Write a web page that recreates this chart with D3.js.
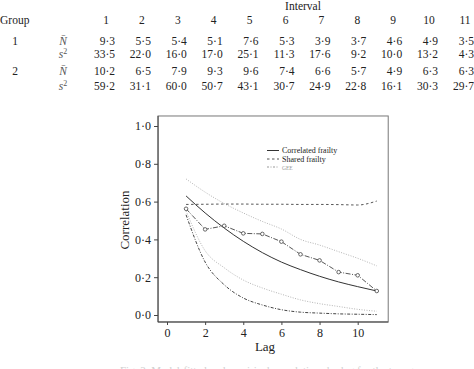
<!DOCTYPE html>
<meta charset="utf-8">
<script src="https://d3js.org/d3.v7.min.js"></script>
<style>
  body { margin: 0; background: #fff; }
  text { font-family: "Liberation Serif", "DejaVu Serif", serif; fill: #222; }
</style>
<div id="chart"></div>
<script>
// table data
var intervals = [1, 2, 3, 4, 5, 6, 7, 8, 9, 10, 11];
var g1N  = ["9·3", "5·5", "5·4", "5·1", "7·6", "5·3", "3·9", "3·7", "4·6", "4·9", "3·5"];
var g1s2 = ["33·5", "22·0", "16·0", "17·0", "25·1", "11·3", "17·6", "9·2", "10·0", "13·2", "4·3"];
var g2N  = ["10·2", "6·5", "7·9", "9·3", "9·6", "7·4", "6·6", "5·7", "4·9", "6·3", "6·3"];
var g2s2 = ["59·2", "31·1", "60·0", "50·7", "43·1", "30·7", "24·9", "22·8", "16·1", "30·3", "29·7"];

// chart data
var lags = [1, 2, 3, 4, 5, 6, 7, 8, 9, 10, 11];
var corrFrailty = [0.63, 0.54, 0.46, 0.39, 0.33, 0.28, 0.24, 0.205, 0.175, 0.15, 0.127];
var corrUpper   = [0.72, 0.65, 0.59, 0.54, 0.495, 0.455, 0.40, 0.37, 0.335, 0.30, 0.26];
var corrLower   = [0.55, 0.34, 0.25, 0.185, 0.143, 0.11, 0.08, 0.06, 0.045, 0.03, 0.02];
var sharedFrailty = [0.585, 0.586, 0.587, 0.587, 0.586, 0.586, 0.585, 0.585, 0.584, 0.582, 0.603];
var gee = [0.562, 0.453, 0.472, 0.432, 0.429, 0.388, 0.321, 0.289, 0.227, 0.21, 0.127];
var geeFit = [0.53, 0.28, 0.16, 0.09, 0.053, 0.028, 0.015, 0.01, 0.006, 0.004, 0.002];
var yTicks = [0, 0.2, 0.4, 0.6, 0.8, 1.0];
var xTicks = [0, 2, 4, 6, 8, 10];
var legendLabels = ["Correlated frailty", "Shared frailty", "GEE"];

var svg = d3.select("#chart").append("svg")
    .attr("width", 474)
    .attr("height", 369);

// ---- table ----
var col = d3.scalePoint().domain(intervals).range([115, 474]);
var fmtDot = function (v) { return d3.format(".1f")(v).replace(".", "·"); };

svg.append("text").attr("x", 303).attr("y", 10).attr("text-anchor", "middle")
    .style("font-size", "11.5px").text("Interval");
svg.append("text").attr("x", 0).attr("y", 24).style("font-size", "11.5px").text("Group");
svg.append("text").attr("x", 15).attr("y", 45).attr("text-anchor", "middle")
    .style("font-size", "11.5px").text("1");
svg.append("text").attr("x", 15).attr("y", 75).attr("text-anchor", "middle")
    .style("font-size", "11.5px").text("2");

svg.selectAll(".hdr").data(intervals).join("text")
    .attr("class", "hdr")
    .attr("x", d => col(d) - 9)
    .attr("y", 24)
    .attr("text-anchor", "middle")
    .style("font-size", "11.5px")
    .text(d => d);

var rows = [
  {lab: "N", vals: g1N, y: 45},
  {lab: "s", vals: g1s2, y: 58},
  {lab: "N", vals: g2N, y: 75},
  {lab: "s", vals: g2s2, y: 90}
];
rows.forEach(function (r) {
  var t = svg.append("text").attr("x", 63).attr("y", r.y).attr("text-anchor", "middle")
      .style("font-size", "11.5px").style("font-style", "italic").style("fill", "#555");
  if (r.lab == "N") {
    t.text("N\u0304");
  } else {
    t.append("tspan").text("s");
    t.append("tspan").attr("dy", -4).style("font-size", "8px").style("font-style", "normal").text("2");
  }
  svg.selectAll(null).data(r.vals).join("text")
      .attr("x", (d, i) => col(intervals[i]))
      .attr("y", r.y)
      .attr("text-anchor", "end")
      .style("font-size", "11.5px")
      .text(d => d);
});

// ---- plot ----
var x = d3.scaleLinear().domain([0, 10]).range([167, 357.7]);
var y = d3.scaleLinear().domain([0, 1]).range([315, 126]);
var xFrame = [-0.47, 11.6], yFrame = [-0.037, 1.053];

svg.append("rect")
    .attr("x", x(xFrame[0])).attr("y", y(yFrame[1]))
    .attr("width", x(xFrame[1]) - x(xFrame[0]))
    .attr("height", y(yFrame[0]) - y(yFrame[1]))
    .attr("fill", "none").attr("stroke", "#777").attr("stroke-width", 1);

var yAxis = svg.append("g")
    .attr("transform", "translate(" + x(xFrame[0]) + ",0)")
    .call(d3.axisLeft(y).tickValues(yTicks).tickSize(4).tickPadding(3).tickFormat(fmtDot));
var xAxis = svg.append("g")
    .attr("transform", "translate(0," + y(yFrame[0]) + ")")
    .call(d3.axisBottom(x).tickValues(xTicks).tickSize(3).tickPadding(3));
[yAxis, xAxis].forEach(function (a) {
  a.select(".domain").remove();
  a.selectAll("line").attr("stroke", "#444");
  a.selectAll("text").style("font-family", "'Liberation Serif', serif")
      .style("font-size", "12px").attr("fill", "#222");
});
svg.append("line")
    .attr("x1", x(xFrame[0])).attr("x2", x(xFrame[0]))
    .attr("y1", y(yFrame[1])).attr("y2", y(yFrame[0]))
    .attr("stroke", "#444");
svg.append("line")
    .attr("x1", x(xFrame[0])).attr("x2", x(xFrame[1]))
    .attr("y1", y(yFrame[0])).attr("y2", y(yFrame[0]))
    .attr("stroke", "#444");

svg.append("text")
    .attr("transform", "translate(129,220) rotate(-90)")
    .attr("text-anchor", "middle")
    .style("font-size", "13px")
    .text("Correlation");
svg.append("text")
    .attr("x", 265).attr("y", 351)
    .attr("text-anchor", "middle")
    .style("font-size", "13px")
    .text("Lag");

var line = d3.line()
    .x((d, i) => x(lags[i]))
    .y(d => y(d))
    .curve(d3.curveMonotoneX);

function drawLine(vals, color, dash, w) {
  svg.append("path")
      .datum(vals)
      .attr("d", line)
      .attr("fill", "none")
      .attr("stroke", color)
      .attr("stroke-width", w)
      .attr("stroke-dasharray", dash);
}

drawLine(corrUpper, "#b5b5b5", "1,1.5", 1);
drawLine(corrLower, "#b5b5b5", "1,1.5", 1);
drawLine(sharedFrailty, "#555", "2.5,2.5", 1);
drawLine(geeFit, "#444", "3,1.5,1,1.5", 1);
drawLine(corrFrailty, "#333", null, 1);

svg.append("path")
    .datum(gee)
    .attr("d", d3.line().x((d, i) => x(lags[i])).y(d => y(d)))
    .attr("fill", "none")
    .attr("stroke", "#444")
    .attr("stroke-width", 0.9)
    .attr("stroke-dasharray", "5,1.5,1,1.5");
svg.selectAll(".pt").data(gee).join("circle")
    .attr("class", "pt")
    .attr("cx", (d, i) => x(lags[i]))
    .attr("cy", d => y(d))
    .attr("r", 1.8)
    .attr("fill", "#fff")
    .attr("stroke", "#444")
    .attr("stroke-width", 0.8);

// legend
var leg = svg.append("g");
var legDash = [null, "2.5,2.5", "2,1.5,1,1.5"];
var legCol = ["#333", "#555", "#999"];
var legY = [150.5, 159, 167];
legendLabels.forEach(function (l, i) {
  var ly = legY[i];
  leg.append("line")
      .attr("x1", 267).attr("x2", 279)
      .attr("y1", ly).attr("y2", ly)
      .attr("stroke", legCol[i])
      .attr("stroke-dasharray", legDash[i]);
  leg.append("text")
      .attr("x", 282).attr("y", ly + 2.5)
      .style("font-size", i == 2 ? "5.5px" : "8px")
      .style("fill", i == 2 ? "#999" : "#222")
      .text(l);
});

// clipped caption at the bottom
svg.append("text")
    .attr("x", 120).attr("y", 374)
    .style("font-size", "11px")
    .style("fill", "#d0d0d0")
    .text("Fig. 3. Model-fitted and empirical correlations by lag for the two groups");
</script>
